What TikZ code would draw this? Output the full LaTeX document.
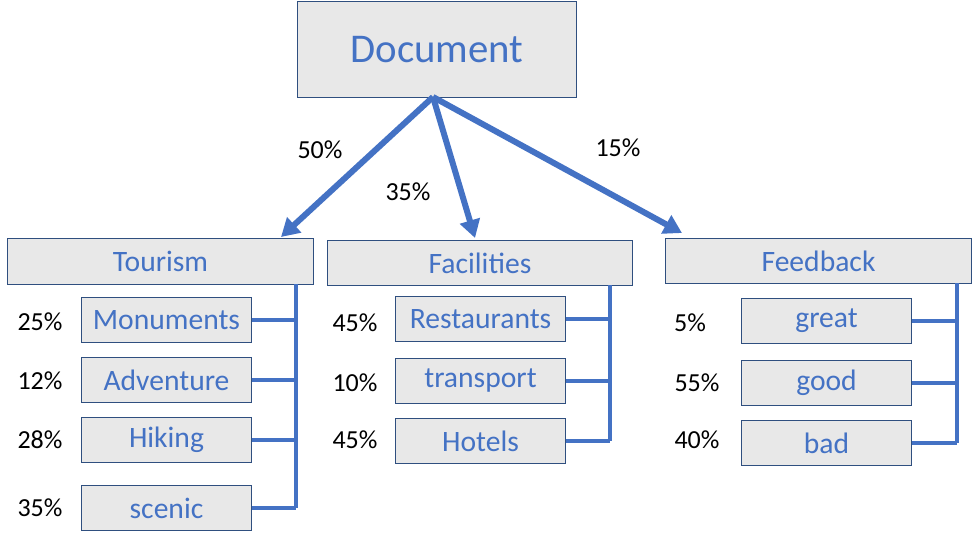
\documentclass[tikz,border=0pt]{standalone}
\usepackage{fontspec}
\setmainfont{Carlito}
\definecolor{tb}{HTML}{4472C4}
\definecolor{bd}{HTML}{2F4F7F}
\begin{document}
\begin{tikzpicture}[x=0.5pt,y=-0.5pt]
\tikzset{
 bx/.style={draw=bd,fill=gray!18,line width=0.5pt,text=tb,anchor=north west,inner sep=0pt,font=\fontsize{14.8}{17}\selectfont},
 pct/.style={font=\fontsize{13}{15}\selectfont},
 arr/.style={draw=tb,line width=3pt,-{Triangle[length=9pt,width=10pt]}},
 brk/.style={draw=tb,line width=2pt}
}
\usetikzlibrary{arrows.meta}
\useasboundingbox (0,0) rectangle (972,546);
\node[bx,minimum width=139.5pt,minimum height=48pt,font=\fontsize{20.4}{24}\selectfont] (doc) at (297,1) {Document};
\node[bx,minimum width=153pt,minimum height=23pt] (tour) at (7,238) {Tourism};
\node[bx,minimum width=152.5pt,minimum height=22.5pt] (fac) at (327,240) {Facilities};
\node[bx,minimum width=153pt,minimum height=22.5pt] (fb) at (665,238) {Feedback};
\foreach \n/\t/\y in {mon/Monuments/297,adv/Adventure/357,hik/Hiking/417,sce/scenic/485}
  \node[bx,minimum width=85pt,minimum height=22.5pt] (\n) at (81,\y) {\t};
\foreach \n/\t/\y in {res/Restaurants/296,tra/transport/358,hot/Hotels/418}
  \node[bx,minimum width=85pt,minimum height=22.5pt] (\n) at (395,\y) {\t};
\foreach \n/\t/\y in {gre/great/298,goo/good/360,bad/bad/420}
  \node[bx,minimum width=85pt,minimum height=22.5pt] (\n) at (741,\y) {\t};
% arrows
\coordinate (o) at (433,97);
\coordinate (t1) at (281,237);
\coordinate (t2) at (475,238);
\coordinate (t3) at (682,233);
\draw[arr] (o) -- (t1);
\draw[arr] (o) -- (t2);
\draw[arr] (o) -- (t3);
\node[pct] (p50) at (320,150) {50\%};
\node[pct] (p35) at (408,192) {35\%};
\node[pct] (p15) at (618,148) {15\%};
% brackets
\coordinate (b1) at (296,284);
\draw[brk] (b1) -- (296,508);
\foreach \n in {mon,adv,hik,sce} \draw[brk] (\n.east) -- (\n.east -| b1);
\coordinate (b2) at (610,285);
\draw[brk] (b2) -- (610,441);
\foreach \n in {res,tra,hot} \draw[brk] (\n.east) -- (\n.east -| b2);
\coordinate (b3) at (957,283);
\draw[brk] (b3) -- (957,443);
\foreach \n in {gre,goo,bad} \draw[brk] (\n.east) -- (\n.east -| b3);
% percentages
\node[pct] (q1) at (40,322) {25\%};
\node[pct] (q2) at (40,381) {12\%};
\node[pct] (q3) at (40,440) {28\%};
\node[pct] (q4) at (40,508) {35\%};
\node[pct] (q5) at (355,323) {45\%};
\node[pct] (q6) at (355,383) {10\%};
\node[pct] (q7) at (355,440) {45\%};
\node[pct] (q8) at (690,323) {5\%};
\node[pct] (q9) at (697,383) {55\%};
\node[pct] (q10) at (697,440) {40\%};
\end{tikzpicture}
\end{document}
